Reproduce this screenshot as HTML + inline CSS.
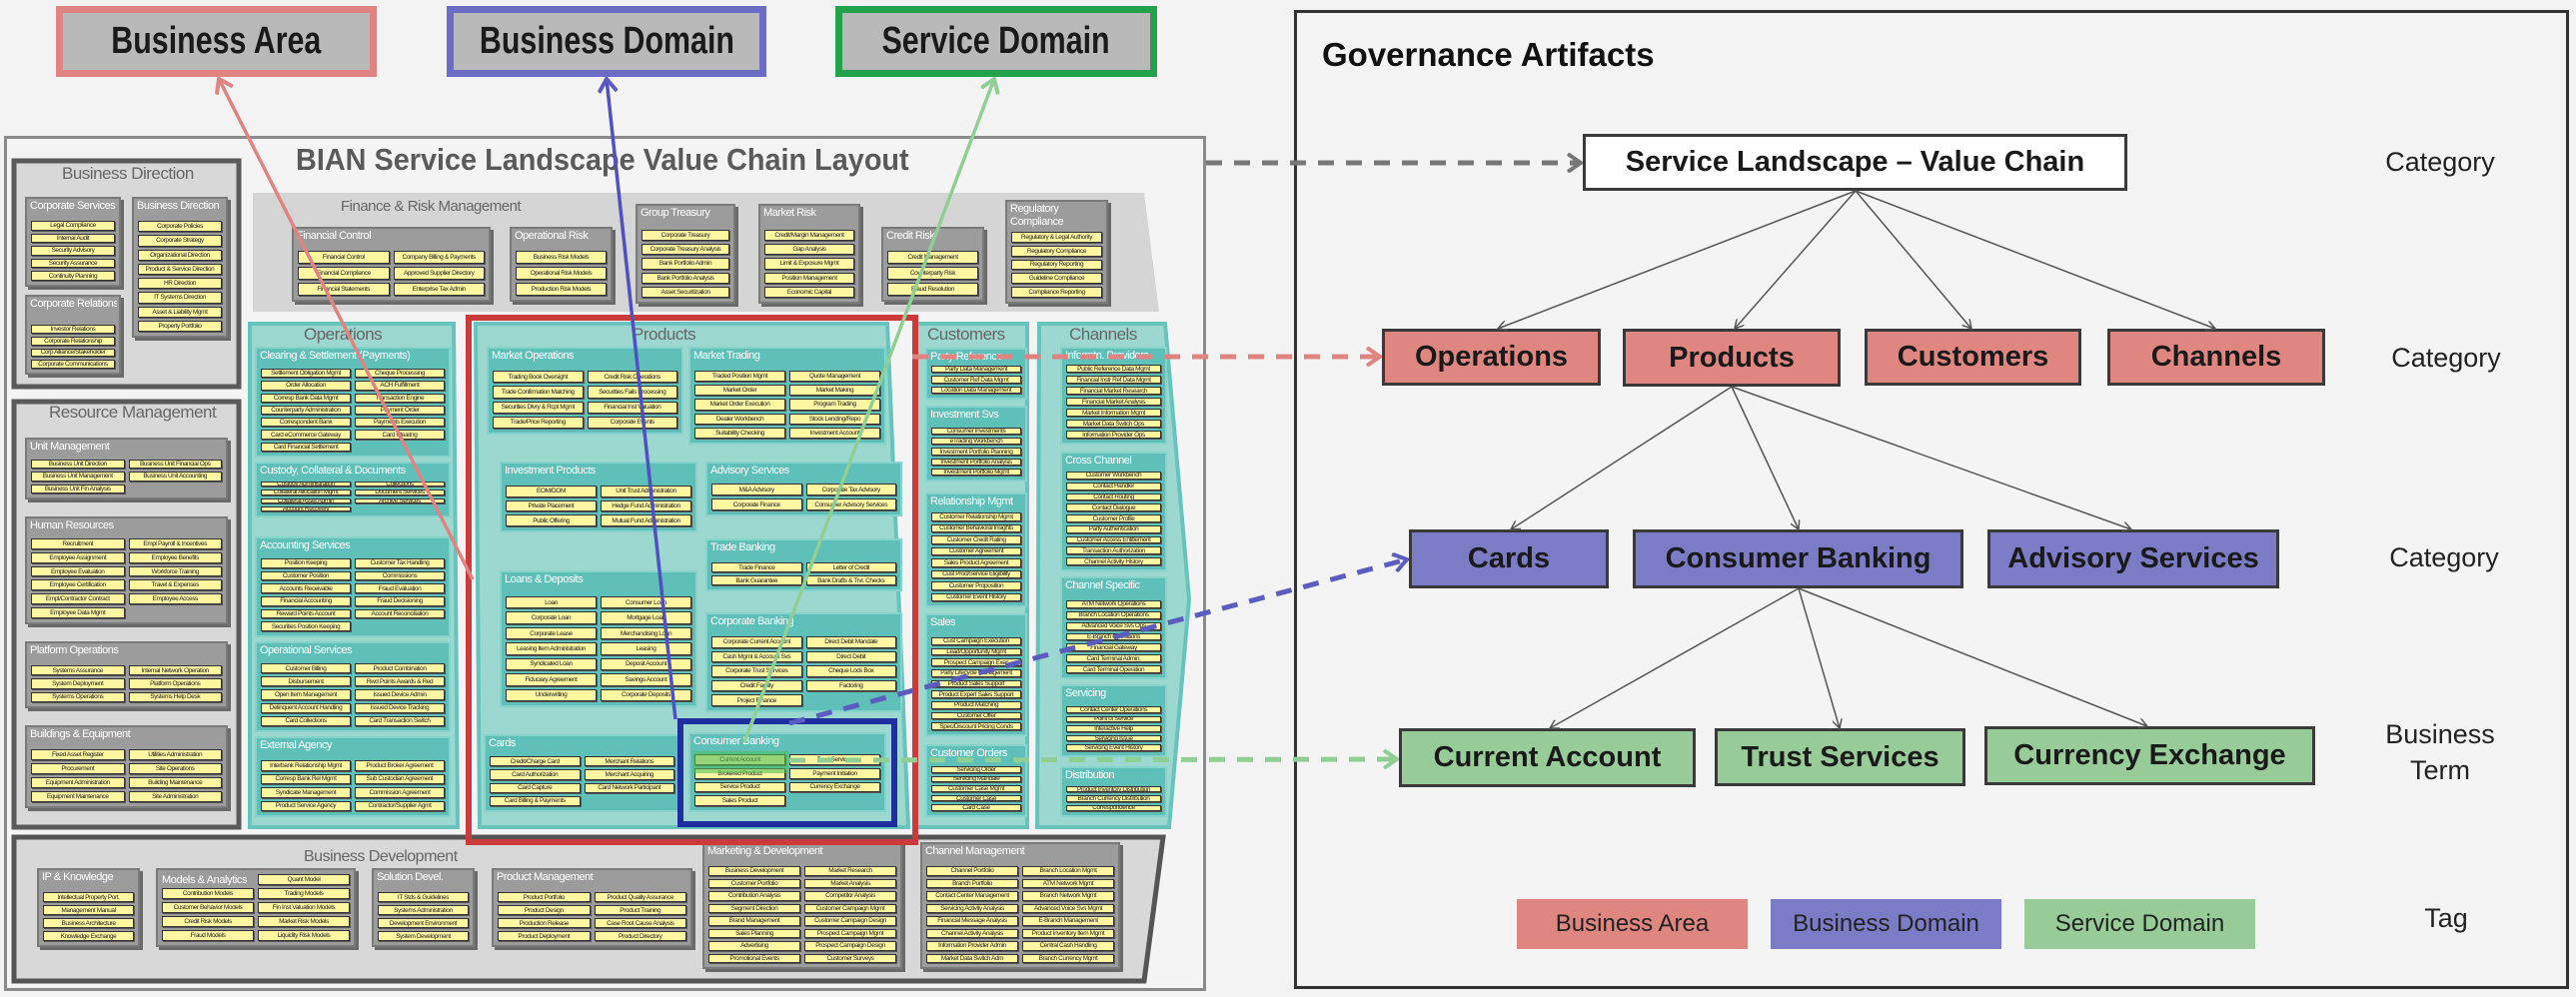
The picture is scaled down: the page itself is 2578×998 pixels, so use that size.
<!DOCTYPE html>
<html><head><meta charset="utf-8"><style>
*{margin:0;padding:0;box-sizing:border-box}
body{width:2578px;height:998px;background:#f3f3f3;position:relative;overflow:hidden;font-family:"Liberation Sans Narrow","Liberation Sans",sans-serif}
.abs{position:absolute}
.nx{display:inline-block;transform:scaleX(.8)}
.hb{position:absolute;background:#b9b9b9;font-weight:bold;font-size:38px;color:#1a1a1a;display:flex;align-items:center;justify-content:center;white-space:nowrap}
.g{position:absolute}
.g .t{position:absolute;left:3px;top:1px;right:2px;color:#fff;font-size:11px;line-height:13px;white-space:nowrap;overflow:hidden;letter-spacing:-0.5px}
.gr{background:#9c9c9c;border:2px solid #7a7a7a;box-shadow:3px 3px 0 #6a6a6a}
.tl{background:#5fbfb9;border:2px solid #86d3cc}
.g .c{position:absolute;left:4px;right:4px;top:var(--t);bottom:4px;display:grid;grid-auto-rows:1fr;gap:3px 4px}
.g .c.two{grid-template-columns:1fr 1fr}
.g i{font-style:normal;background:#fff6a2;border:1px solid #333;box-shadow:1px 1px 0 #555;font-size:6.5px;color:#222;display:flex;align-items:center;justify-content:center;white-space:nowrap;overflow:hidden;letter-spacing:-0.4px}
.g i.n{background:none;border:none;box-shadow:none;color:#fff;font-size:11px;justify-content:flex-start}
.bt{position:absolute;color:#666;font-size:17px;white-space:nowrap;letter-spacing:-0.5px}
.rb{position:absolute;border:3px solid #3a3a3a;font-weight:bold;font-size:29px;color:#1a1a1a;display:flex;align-items:center;justify-content:center;white-space:nowrap}
.red{background:#df8680}.blue{background:#7b7bc6}.green{background:#97cb98}
.lab{position:absolute;font-size:27px;color:#222;text-align:center;line-height:36px;width:140px}
.tag{position:absolute;font-size:24px;color:#222;display:flex;align-items:center;justify-content:center}
</style></head><body>

<div class="hb" style="left:56px;top:6px;width:321px;height:71px;border:7px solid #e08482"><span class="nx">Business Area</span></div>
<div class="hb" style="left:447px;top:6px;width:320px;height:71px;border:7px solid #6c6cc4"><span class="nx">Business Domain</span></div>
<div class="hb" style="left:836px;top:6px;width:322px;height:71px;border:7px solid #22a24a"><span class="nx">Service Domain</span></div>

<div class="abs" style="left:4px;top:136px;width:1203px;height:856px;border:3px solid #8a8a8a;background:#f4f4f4"></div>
<div class="abs" style="left:296px;top:142px;font-size:31px;font-weight:bold;color:#5a5a5a;white-space:nowrap;transform:scaleX(.93);transform-origin:left">BIAN Service Landscape Value Chain Layout</div>

<svg class="abs" style="left:0;top:0" width="1210" height="998">
 <polygon points="253,193 1145,193 1160,312 253,312" fill="#d5d5d5"/>
 <polygon points="14,838 1164,838 1145,982 14,982" fill="#d8d8d8" stroke="#555" stroke-width="5"/>
 <rect x="14" y="161" width="225" height="226" fill="#d8d8d8" stroke="#5a5a5a" stroke-width="5"/>
 <rect x="14" y="402" width="225" height="426" fill="#d8d8d8" stroke="#5a5a5a" stroke-width="5"/>
 <polygon points="250,324 454,324 458,828 250,828" fill="#9dd8d0" stroke="#66c4bc" stroke-width="4"/>
 <polygon points="476,324 888,324 909,828 480,828" fill="#9dd8d0" stroke="#66c4bc" stroke-width="4"/>
 <polygon points="917,324 1028,324 1028,828 917,828" fill="#9dd8d0" stroke="#66c4bc" stroke-width="4"/>
 <polygon points="1040,324 1166,324 1190,600 1170,828 1038,828" fill="#9dd8d0" stroke="#66c4bc" stroke-width="4"/>
</svg>

<div class="bt" style="left:62px;top:164px">Business Direction</div>
<div class="bt" style="left:49px;top:403px">Resource Management</div>
<div class="bt" style="left:341px;top:198px;font-size:15px">Finance &amp; Risk Management</div>
<div class="bt" style="left:304px;top:849px;font-size:16px">Business Development</div>
<div class="bt" style="left:304px;top:325px">Operations</div>
<div class="bt" style="left:633px;top:325px">Products</div>
<div class="bt" style="left:928px;top:325px">Customers</div>
<div class="bt" style="left:1070px;top:325px">Channels</div>

<div class="g gr" style="left:25px;top:197px;width:96px;height:90px;--t:22px"><div class="t">Corporate Services</div><div class="c"><i>Legal Compliance</i><i>Internal Audit</i><i>Security Advisory</i><i>Security Assurance</i><i>Continuity Planning</i></div></div>
<div class="g gr" style="left:132px;top:197px;width:96px;height:141px;--t:22px"><div class="t">Business Direction</div><div class="c"><i>Corporate Policies</i><i>Corporate Strategy</i><i>Organizational Direction</i><i>Product &amp; Service Direction</i><i>HR Direction</i><i>IT Systems Direction</i><i>Asset &amp; Liability Mgmt</i><i>Property Portfolio</i></div></div>
<div class="g gr" style="left:25px;top:295px;width:96px;height:80px;--t:28px"><div class="t">Corporate Relations</div><div class="c"><i>Investor Relations</i><i>Corporate Relationship</i><i>Corp Alliance/Stakeholder</i><i>Corporate Communications</i></div></div>
<div class="g gr" style="left:25px;top:438px;width:203px;height:62px;--t:20px"><div class="t">Unit Management</div><div class="c two"><i>Business Unit Direction</i><i>Business Unit Financial Ops</i><i>Business Unit Management</i><i>Business Unit Accounting</i><i>Business Unit Fin Analysis</i></div></div>
<div class="g gr" style="left:25px;top:517px;width:203px;height:108px;--t:20px"><div class="t">Human Resources</div><div class="c two"><i>Recruitment</i><i>Empl Payroll &amp; Incentives</i><i>Employee Assignment</i><i>Employee Benefits</i><i>Employee Evaluation</i><i>Workforce Training</i><i>Employee Certification</i><i>Travel &amp; Expenses</i><i>Empl/Contractor Contract</i><i>Employee Access</i><i>Employee Data Mgmt</i></div></div>
<div class="g gr" style="left:25px;top:642px;width:203px;height:67px;--t:22px"><div class="t">Platform Operations</div><div class="c two"><i>Systems Assurance</i><i>Internal Network Operation</i><i>System Deployment</i><i>Platform Operations</i><i>Systems Operations</i><i>Systems Help Desk</i></div></div>
<div class="g gr" style="left:25px;top:726px;width:203px;height:83px;--t:22px"><div class="t">Buildings &amp; Equipment</div><div class="c two"><i>Fixed Asset Register</i><i>Utilities Administration</i><i>Procurement</i><i>Site Operations</i><i>Equipment Administration</i><i>Building Maintenance</i><i>Equipment Maintenance</i><i>Site Administration</i></div></div>
<div class="g gr" style="left:292px;top:227px;width:199px;height:75px;--t:22px"><div class="t">Financial Control</div><div class="c two"><i>Financial Control</i><i>Company Billing &amp; Payments</i><i>Financial Compliance</i><i>Approved Supplier Directory</i><i>Financial Statements</i><i>Enterprise Tax Admin</i></div></div>
<div class="g gr" style="left:510px;top:227px;width:103px;height:75px;--t:22px"><div class="t">Operational Risk</div><div class="c"><i>Business Risk Models</i><i>Operational Risk Models</i><i>Production Risk Models</i></div></div>
<div class="g gr" style="left:636px;top:204px;width:100px;height:100px;--t:24px"><div class="t">Group Treasury</div><div class="c"><i>Corporate Treasury</i><i>Corporate Treasury Analysis</i><i>Bank Portfolio Admin</i><i>Bank Portfolio Analysis</i><i>Asset Securitization</i></div></div>
<div class="g gr" style="left:759px;top:204px;width:102px;height:100px;--t:24px"><div class="t">Market Risk</div><div class="c"><i>Credit/Margin Management</i><i>Gap Analysis</i><i>Limit &amp; Exposure Mgmt</i><i>Position Management</i><i>Economic Capital</i></div></div>
<div class="g gr" style="left:882px;top:227px;width:103px;height:75px;--t:22px"><div class="t">Credit Risk</div><div class="c"><i>Credit Management</i><i>Counterparty Risk</i><i>Fraud Resolution</i></div></div>
<div class="g gr" style="left:1006px;top:200px;width:103px;height:104px;--t:30px"><div class="t">Regulatory<br>Compliance</div><div class="c"><i>Regulatory &amp; Legal Authority</i><i>Regulatory Compliance</i><i>Regulatory Reporting</i><i>Guideline Compliance</i><i>Compliance Reporting</i></div></div>
<div class="g tl" style="left:255px;top:347px;width:196px;height:111px;--t:20px"><div class="t">Clearing &amp; Settlement (Payments)</div><div class="c two"><i>Settlement Obligation Mgmt</i><i>Cheque Processing</i><i>Order Allocation</i><i>ACH Fulfillment</i><i>Corresp Bank Data Mgmt</i><i>Transaction Engine</i><i>Counterparty Administration</i><i>Payment Order</i><i>Correspondent Bank</i><i>Payments Execution</i><i>Card eCommerce Gateway</i><i>Card Clearing</i><i>Card Financial Settlement</i></div></div>
<div class="g tl" style="left:255px;top:462px;width:196px;height:56px;--t:18px"><div class="t">Custody, Collateral &amp; Documents</div><div class="c two"><i>Custody Administration</i><i>Collections</i><i>Collateral Allocation Mgmt</i><i>Document Services</i><i>Collateral Asset Admin</i><i>Archive Services</i><i>Account Recovery</i></div></div>
<div class="g tl" style="left:255px;top:537px;width:196px;height:101px;--t:20px"><div class="t">Accounting  Services</div><div class="c two"><i>Position Keeping</i><i>Customer Tax Handling</i><i>Customer Position</i><i>Commissions</i><i>Accounts Receivable</i><i>Fraud Evaluation</i><i>Financial Accounting</i><i>Fraud Decisioning</i><i>Reward Points Account</i><i>Account Reconciliation</i><i>Securities Position Keeping</i></div></div>
<div class="g tl" style="left:255px;top:642px;width:196px;height:91px;--t:20px"><div class="t">Operational Services</div><div class="c two"><i>Customer Billing</i><i>Product Combination</i><i>Disbursement</i><i>Rwd Points Awards &amp; Red</i><i>Open Item Management</i><i>Issued Device Admin</i><i>Delinquent Account Handling</i><i>Issued Device Tracking</i><i>Card Collections</i><i>Card Transaction Switch</i></div></div>
<div class="g tl" style="left:255px;top:737px;width:196px;height:81px;--t:22px"><div class="t">External Agency</div><div class="c two"><i>Interbank Relationship Mgmt</i><i>Product Broker Agreement</i><i>Corresp Bank Rel Mgmt</i><i>Sub Custodian Agreement</i><i>Syndicate Management</i><i>Commission Agreement</i><i>Product Service Agency</i><i>Contractor/Supplier Agmt</i></div></div>
<div class="g tl" style="left:487px;top:347px;width:197px;height:88px;--t:22px"><div class="t">Market Operations</div><div class="c two"><i>Trading Book Oversight</i><i>Credit Risk Operations</i><i>Trade Confirmation Matching</i><i>Securities Fails Processing</i><i>Securities Dlvry &amp; Rcpt Mgmt</i><i>Financial Inst Valuation</i><i>Trade/Price Reporting</i><i>Corporate Events</i></div></div>
<div class="g tl" style="left:689px;top:347px;width:198px;height:98px;--t:22px"><div class="t">Market Trading</div><div class="c two"><i>Traded Position Mgmt</i><i>Quote Management</i><i>Market Order</i><i>Market Making</i><i>Market Order Execution</i><i>Program Trading</i><i>Dealer Workbench</i><i>Stock Lending/Repo</i><i>Suitability Checking</i><i>Investment Account</i></div></div>
<div class="g tl" style="left:500px;top:462px;width:198px;height:71px;--t:22px"><div class="t">Investment Products</div><div class="c two"><i>EOM/DOM</i><i>Unit Trust Administration</i><i>Private Placement</i><i>Hedge Fund Administration</i><i>Public Offering</i><i>Mutual Fund Administration</i></div></div>
<div class="g tl" style="left:706px;top:462px;width:197px;height:55px;--t:20px"><div class="t">Advisory Services</div><div class="c two"><i>M&amp;A Advisory</i><i>Corporate Tax Advisory</i><i>Corporate Finance</i><i>Consumer Advisory Services</i></div></div>
<div class="g tl" style="left:706px;top:539px;width:197px;height:53px;--t:22px"><div class="t">Trade Banking</div><div class="c two"><i>Trade Finance</i><i>Letter of Credit</i><i>Bank Guarantee</i><i>Bank Drafts &amp; Trvl. Checks</i></div></div>
<div class="g tl" style="left:500px;top:571px;width:198px;height:137px;--t:24px"><div class="t">Loans &amp; Deposits</div><div class="c two"><i>Loan</i><i>Consumer Loan</i><i>Corporate Loan</i><i>Mortgage Loan</i><i>Corporate Lease</i><i>Merchandising Loan</i><i>Leasing Item Administration</i><i>Leasing</i><i>Syndicated Loan</i><i>Deposit Account</i><i>Fiduciary Agreement</i><i>Savings Account</i><i>Underwriting</i><i>Corporate Deposits</i></div></div>
<div class="g tl" style="left:706px;top:613px;width:197px;height:100px;--t:22px"><div class="t">Corporate Banking</div><div class="c two"><i>Corporate Current Account</i><i>Direct Debit Mandate</i><i>Cash Mgmt &amp; Account Svs</i><i>Direct Debit</i><i>Corporate Trust Services</i><i>Cheque Lock Box</i><i>Credit Facility</i><i>Factoring</i><i>Project Finance</i></div></div>
<div class="g tl" style="left:484px;top:735px;width:197px;height:78px;--t:20px"><div class="t">Cards</div><div class="c two"><i>Credit/Charge Card</i><i>Merchant Relations</i><i>Card Authorization</i><i>Merchant Acquiring</i><i>Card Capture</i><i>Card Network Participant</i><i>Card Billing &amp; Payments</i></div></div>
<div class="g tl" style="left:689px;top:733px;width:198px;height:80px;--t:20px"><div class="t">Consumer Banking</div><div class="c two"><i>Current Account</i><i>Trust Services</i><i>Brokered Product</i><i>Payment Initiation</i><i>Service Product</i><i>Currency Exchange</i><i>Sales Product</i></div></div>
<div class="abs" style="left:693px;top:752px;width:96px;height:22px;background:rgba(80,190,90,0.6)"></div>
<div class="g tl" style="left:926px;top:348px;width:102px;height:52px;--t:16px"><div class="t">Party Reference</div><div class="c"><i>Party Data Management</i><i>Customer Ref Data Mgmt</i><i>Location Data Management</i></div></div>
<div class="g tl" style="left:926px;top:406px;width:102px;height:76px;--t:20px"><div class="t">Investment Svs</div><div class="c"><i>Consumer Investments</i><i>eTrading Workbench</i><i>Investment Portfolio Planning</i><i>Investment Portfolio Analysis</i><i>Investment Portfolio Mgmt</i></div></div>
<div class="g tl" style="left:926px;top:493px;width:102px;height:115px;--t:18px"><div class="t">Relationship Mgmt</div><div class="c"><i>Customer Relationship Mgmt</i><i>Customer Behavioral Insights</i><i>Customer Credit Rating</i><i>Customer Agreement</i><i>Sales Product Agreement</i><i>Cust Prod/Service Eligibility</i><i>Customer Proposition</i><i>Customer Event History</i></div></div>
<div class="g tl" style="left:926px;top:614px;width:102px;height:123px;--t:22px"><div class="t">Sales</div><div class="c"><i>Cust Campaign Execution</i><i>Lead/Opportunity Mgmt</i><i>Prospect Campaign Exec</i><i>Party Lifecycle Management</i><i>Product Sales Support</i><i>Product Expert Sales Support</i><i>Product Matching</i><i>Customer Offer</i><i>Spec/Discount Pricing Conds</i></div></div>
<div class="g tl" style="left:926px;top:745px;width:102px;height:73px;--t:20px"><div class="t">Customer Orders</div><div class="c"><i>Servicing Order</i><i>Servicing Mandate</i><i>Customer Case Mgmt</i><i>Customer Case</i><i>Card Case</i></div></div>
<div class="g tl" style="left:1061px;top:347px;width:107px;height:98px;--t:16px"><div class="t">Informtn. Providers</div><div class="c"><i>Public Reference Data Mgmt</i><i>Financial Instr Ref Data Mgmt</i><i>Financial Market Research</i><i>Financial Market Analysis</i><i>Market Information Mgmt</i><i>Market Data Switch Ops</i><i>Information Provider Ops</i></div></div>
<div class="g tl" style="left:1061px;top:452px;width:107px;height:120px;--t:18px"><div class="t">Cross Channel</div><div class="c"><i>Customer Workbench</i><i>Contact Handler</i><i>Contact Routing</i><i>Contact Dialogue</i><i>Customer Profile</i><i>Party Authentication</i><i>Customer Access Entitlement</i><i>Transaction Authorization</i><i>Channel Activity History</i></div></div>
<div class="g tl" style="left:1061px;top:577px;width:107px;height:103px;--t:22px"><div class="t">Channel Specific</div><div class="c"><i>ATM Network Operations</i><i>Branch Location Operations</i><i>Advanced Voice Svs Ops</i><i>E-Branch Operations</i><i>Financial Gateway</i><i>Card Terminal Admin.</i><i>Card Terminal Operation</i></div></div>
<div class="g tl" style="left:1061px;top:685px;width:107px;height:73px;--t:20px"><div class="t">Servicing</div><div class="c"><i>Contact Center Operations</i><i>Point of Service</i><i>Interactive Help</i><i>Servicing Issue</i><i>Servicing Event History</i></div></div>
<div class="g tl" style="left:1061px;top:767px;width:107px;height:51px;--t:18px"><div class="t">Distribution</div><div class="c"><i>Product Inventory Distribution</i><i>Branch Currency Distribution</i><i>Correspondence</i></div></div>
<div class="g gr" style="left:37px;top:869px;width:103px;height:79px;--t:22px"><div class="t">IP &amp; Knowledge</div><div class="c"><i>Intellectual Property Port.</i><i>Management Manual</i><i>Business Architecture</i><i>Knowledge Exchange</i></div></div>
<div class="g gr" style="left:156px;top:869px;width:200px;height:79px;--t:4px"><div class="c two"><i class="n">Models &amp; Analytics</i><i>Quant Model</i><i>Contribution Models</i><i>Trading Models</i><i>Customer Behavior Models</i><i>Fin Inst Valuation Models</i><i>Credit Risk Models</i><i>Market Risk Models</i><i>Fraud Models</i><i>Liquidity Risk Models</i></div></div>
<div class="g gr" style="left:372px;top:869px;width:103px;height:79px;--t:22px"><div class="t">Solution Devel.</div><div class="c"><i>IT Stds &amp; Guidelines</i><i>Systems Administration</i><i>Development Environment</i><i>System Development</i></div></div>
<div class="g gr" style="left:492px;top:869px;width:201px;height:79px;--t:22px"><div class="t">Product Management</div><div class="c two"><i>Product Portfolio</i><i>Product Quality Assurance</i><i>Product Design</i><i>Product Training</i><i>Production Release</i><i>Case Root Cause Analysis</i><i>Product Deployment</i><i>Product Directory</i></div></div>
<div class="g gr" style="left:703px;top:843px;width:200px;height:127px;--t:22px"><div class="t">Marketing &amp; Development</div><div class="c two"><i>Business Development</i><i>Market Research</i><i>Customer Portfolio</i><i>Market Analysis</i><i>Contribution Analysis</i><i>Competitor Analysis</i><i>Segment Direction</i><i>Customer Campaign Mgmt</i><i>Brand Management</i><i>Customer Campaign Design</i><i>Sales Planning</i><i>Prospect Campaign Mgmt</i><i>Advertising</i><i>Prospect Campaign Design</i><i>Promotional Events</i><i>Customer Surveys</i></div></div>
<div class="g gr" style="left:921px;top:843px;width:200px;height:127px;--t:22px"><div class="t">Channel Management</div><div class="c two"><i>Channel Portfolio</i><i>Branch Location Mgmt</i><i>Branch Portfolio</i><i>ATM Network Mgmt</i><i>Contact Center Management</i><i>Branch Network Mgmt</i><i>Servicing Activity Analysis</i><i>Advanced Voice Svs Mgmt</i><i>Financial Message Analysis</i><i>E-Branch Management</i><i>Channel Activity Analysis</i><i>Product Inventory Item Mgmt</i><i>Information Provider Admin</i><i>Central Cash Handling</i><i>Market Data Switch Adm</i><i>Branch Currency Mgmt</i></div></div>

<div class="abs" style="left:1295px;top:10px;width:1276px;height:980px;border:3px solid #333;background:#f4f4f4"></div>
<div class="abs" style="left:1323px;top:36px;font-size:33px;font-weight:bold;color:#111;white-space:nowrap">Governance Artifacts</div>
<div class="rb" style="left:1584px;top:134px;width:545px;height:57px;background:#fff">Service Landscape – Value Chain</div>
<div class="rb red" style="left:1383px;top:329px;width:219px;height:57px">Operations</div>
<div class="rb red" style="left:1624px;top:329px;width:218px;height:58px">Products</div>
<div class="rb red" style="left:1866px;top:329px;width:217px;height:57px">Customers</div>
<div class="rb red" style="left:2109px;top:329px;width:218px;height:57px">Channels</div>
<div class="rb blue" style="left:1410px;top:530px;width:200px;height:59px">Cards</div>
<div class="rb blue" style="left:1634px;top:530px;width:331px;height:59px">Consumer Banking</div>
<div class="rb blue" style="left:1989px;top:530px;width:292px;height:59px">Advisory Services</div>
<div class="rb green" style="left:1400px;top:729px;width:297px;height:59px">Current Account</div>
<div class="rb green" style="left:1716px;top:729px;width:251px;height:58px">Trust Services</div>
<div class="rb green" style="left:1986px;top:727px;width:331px;height:59px">Currency Exchange</div>
<div class="lab" style="left:2372px;top:144px">Category</div>
<div class="lab" style="left:2378px;top:340px">Category</div>
<div class="lab" style="left:2376px;top:540px">Category</div>
<div class="lab" style="left:2372px;top:717px">Business<br>Term</div>
<div class="lab" style="left:2378px;top:901px">Tag</div>
<div class="tag red" style="left:1518px;top:900px;width:231px;height:50px">Business Area</div>
<div class="tag blue" style="left:1772px;top:900px;width:231px;height:50px">Business Domain</div>
<div class="tag green" style="left:2026px;top:900px;width:231px;height:50px">Service Domain</div>

<svg class="abs" style="left:0;top:0" width="2578" height="998">
 <defs>
  <marker id="ag" markerWidth="10" markerHeight="10" refX="9" refY="5" orient="auto" markerUnits="userSpaceOnUse"><path d="M0,0 L9,5 L0,10" fill="none" stroke="#555" stroke-width="1.5"/></marker>
  <marker id="mr" markerWidth="16" markerHeight="20" refX="14" refY="10" orient="auto" markerUnits="userSpaceOnUse"><path d="M1,1 L14,10 L1,19" fill="none" stroke="#e08482" stroke-width="4"/></marker>
  <marker id="mb" markerWidth="16" markerHeight="20" refX="14" refY="10" orient="auto" markerUnits="userSpaceOnUse"><path d="M1,1 L14,10 L1,19" fill="none" stroke="#5c5cc0" stroke-width="4"/></marker>
  <marker id="mg" markerWidth="16" markerHeight="20" refX="14" refY="10" orient="auto" markerUnits="userSpaceOnUse"><path d="M1,1 L14,10 L1,19" fill="none" stroke="#8fcf94" stroke-width="4"/></marker>
  <marker id="mk" markerWidth="16" markerHeight="20" refX="14" refY="10" orient="auto" markerUnits="userSpaceOnUse"><path d="M1,1 L14,10 L1,19" fill="none" stroke="#777" stroke-width="4"/></marker>
 </defs>
 <rect x="469" y="318" width="447" height="525" fill="none" stroke="#cc3b3b" stroke-width="6"/>
 <rect x="681" y="722" width="214" height="103" fill="none" stroke="#1f2fa0" stroke-width="6"/>
 <line x1="473" y1="580" x2="219" y2="79" stroke="#e08482" stroke-width="3.5" marker-end="url(#mr)"/>
 <line x1="676" y1="720" x2="607" y2="79" stroke="#5050c0" stroke-width="3.5" marker-end="url(#mb)"/>
 <line x1="745" y1="743" x2="995" y2="79" stroke="#8fcf94" stroke-width="3.5" marker-end="url(#mg)"/>
 <g stroke-width="5" stroke-dasharray="16 12" fill="none">
  <line x1="1207" y1="163" x2="1582" y2="163" stroke="#777" marker-end="url(#mk)"/>
  <line x1="913" y1="357" x2="1381" y2="357" stroke="#e08482" marker-end="url(#mr)"/>
  <line x1="790" y1="724" x2="1408" y2="560" stroke="#5c5cc0" marker-end="url(#mb)"/>
  <line x1="790" y1="761" x2="1398" y2="760" stroke="#8fcf94" marker-end="url(#mg)"/>
 </g>
 <g stroke="#555" stroke-width="1.5" fill="none">
  <line x1="1857" y1="191" x2="1499" y2="329" marker-end="url(#ag)"/>
  <line x1="1857" y1="191" x2="1736" y2="329" marker-end="url(#ag)"/>
  <line x1="1857" y1="191" x2="1973" y2="329" marker-end="url(#ag)"/>
  <line x1="1857" y1="191" x2="2217" y2="329" marker-end="url(#ag)"/>
  <line x1="1733" y1="387" x2="1512" y2="530" marker-end="url(#ag)"/>
  <line x1="1733" y1="387" x2="1800" y2="530" marker-end="url(#ag)"/>
  <line x1="1733" y1="387" x2="2133" y2="530" marker-end="url(#ag)"/>
  <line x1="1800" y1="589" x2="1551" y2="729" marker-end="url(#ag)"/>
  <line x1="1800" y1="589" x2="1841" y2="729" marker-end="url(#ag)"/>
  <line x1="1800" y1="589" x2="2149" y2="727" marker-end="url(#ag)"/>
 </g>
</svg>
</body></html>
